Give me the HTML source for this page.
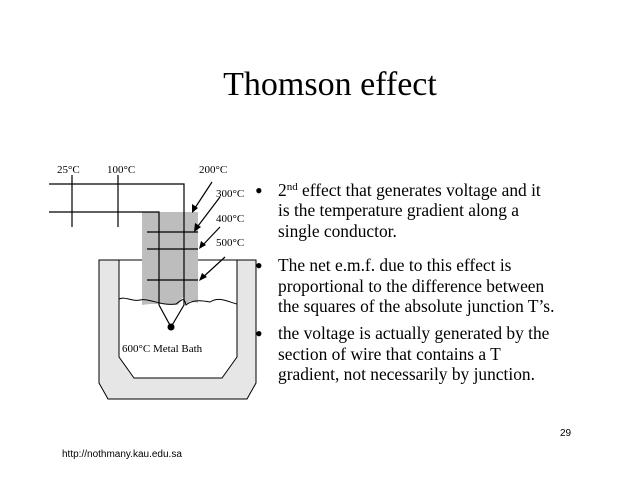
<!DOCTYPE html>
<html><head><style>
html,body{margin:0;padding:0;background:#fff;}
svg{display:block;}
</style></head><body>
<svg width="638" height="493" viewBox="0 0 638 493" xmlns="http://www.w3.org/2000/svg">
<rect width="638" height="493" fill="#fff"/>
<text x="330" y="95" font-family="Liberation Serif, serif" font-size="34" text-anchor="middle" fill="#000">Thomson effect</text>

<!-- container -->
<path d="M99,260 L256,260 L256,383 L247,399 L108,399 L99,383 Z" fill="#e6e6e6" stroke="#000" stroke-width="1"/>
<path d="M119,260 L237,260 L237,357 L222,378 L134,378 L119,357 Z" fill="#fff" stroke="#000" stroke-width="1"/>
<!-- gray probe -->
<path d="M142,212 L198,212 L198,303 L190,301 L186,305 L183,297 L178,305 L160,304 L150,304 L142,305 Z" fill="#bdbdbd"/>
<path d="M119,299 C126,296 132,302 140,300 C150,298 160,306 176,304 C182,300 184,296 186,305 C192,300 200,300 210,302 C220,296 228,302 237,304" fill="none" stroke="#000" stroke-width="1"/>
<!-- wires -->
<g stroke="#000" stroke-width="1.2" fill="none">
<path d="M49,184 L184,184 L184,305"/>
<path d="M49,212 L159,212 L159,305"/>
<line x1="72" y1="175" x2="72" y2="227"/>
<line x1="118" y1="175" x2="118" y2="227"/>
<line x1="147" y1="232" x2="198" y2="232"/>
<line x1="147" y1="249" x2="198" y2="249"/>
<line x1="147" y1="280" x2="198" y2="280"/>
<path d="M159,305 L171,327 L184,305"/>
<line x1="212" y1="182" x2="193" y2="211"/>
<line x1="220" y1="197" x2="195" y2="230"/>
<line x1="220" y1="227" x2="201" y2="247"/>
<line x1="225" y1="257" x2="201" y2="279"/>
</g>
<circle cx="171" cy="327" r="3.5" fill="#000"/>
<g fill="#000">
<polygon points="192,213 192,204 198,208"/>
<polygon points="194,232 195,223 201,227"/>
<polygon points="199,249 201,241 206,245"/>
<polygon points="199,281 202,273 207,277"/>
</g>
<g font-family="Liberation Serif, serif" font-size="11" fill="#000">
<text x="57" y="173">25°C</text>
<text x="107" y="173">100°C</text>
<text x="199" y="173">200°C</text>
<text x="216" y="197">300°C</text>
<text x="216" y="222">400°C</text>
<text x="216" y="246">500°C</text>
<text x="122" y="352">600°C Metal Bath</text>
</g>

<g font-family="Liberation Serif, serif" font-size="17.4" fill="#000">
<g font-size="22"><text x="255" y="198">•</text><text x="255" y="273">•</text><text x="255" y="341">•</text></g>
<text x="278" y="196">2<tspan font-size="11" dy="-6">nd</tspan><tspan dy="6"> effect that generates voltage and it</tspan></text>
<text x="278" y="216">is the temperature gradient along a</text>
<text x="278" y="237">single conductor.</text>
<text x="278" y="271">The net e.m.f. due to this effect is</text>
<text x="278" y="292">proportional to the difference between</text>
<text x="278" y="312">the squares of the absolute junction T’s.</text>
<text x="278" y="339">the voltage is actually generated by the</text>
<text x="278" y="360">section of wire that contains a T</text>
<text x="278" y="380">gradient,  not necessarily by  junction.</text>
</g>
<text x="560" y="436" font-family="Liberation Sans, sans-serif" font-size="10" fill="#000">29</text>
<text x="62" y="457" font-family="Liberation Sans, sans-serif" font-size="10" fill="#000">http://nothmany.kau.edu.sa</text>
</svg>
</body></html>
